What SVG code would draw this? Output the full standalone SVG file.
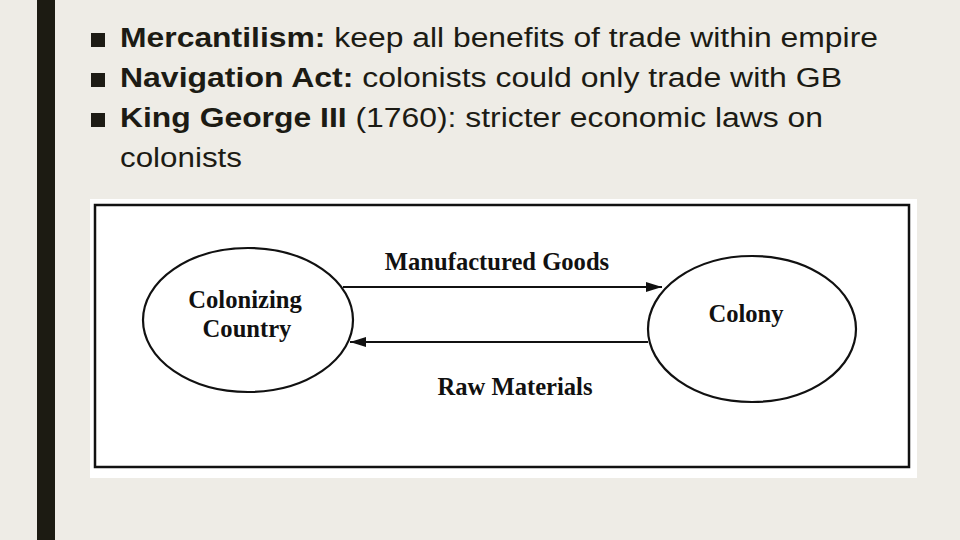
<svg xmlns="http://www.w3.org/2000/svg" width="960" height="540" viewBox="0 0 960 540">
<defs>
<style>
.bul{font-family:"Liberation Sans",Arial,sans-serif;font-size:27px;fill:#1c1b14}
.b{font-weight:bold}
.lbl{font-family:"Liberation Serif","Times New Roman",serif;font-size:24.6px;font-weight:bold;fill:#111;text-anchor:middle}
.node{fill:none;stroke:#111;stroke-width:2.2}
.conn{stroke:#111;stroke-width:2.2;fill:none}
</style>
<marker id="ah" viewBox="0 0 16 10" refX="16" refY="5" markerWidth="16" markerHeight="10" markerUnits="userSpaceOnUse" orient="auto">
<path d="M0,0 L16,5 L0,10 Z" fill="#111"/>
</marker>
</defs>
<rect width="960" height="540" fill="#EEECE6"/>
<rect x="37" y="0" width="18" height="540" fill="#1c1b12"/>
<g id="bullets">
<rect x="91" y="33" width="14" height="14" fill="#1c1b14"/>
<rect x="91" y="73" width="14" height="14" fill="#1c1b14"/>
<rect x="91" y="113" width="14" height="14" fill="#1c1b14"/>
<text class="bul" x="120" y="47" textLength="758" lengthAdjust="spacingAndGlyphs"><tspan class="b">Mercantilism:</tspan> keep all benefits of trade within empire</text>
<text class="bul" x="120" y="87" textLength="722" lengthAdjust="spacingAndGlyphs"><tspan class="b">Navigation Act:</tspan> colonists could only trade with GB</text>
<text class="bul" x="120" y="127" textLength="703" lengthAdjust="spacingAndGlyphs"><tspan class="b">King George III</tspan> (1760): stricter economic laws on</text>
<text class="bul" x="120" y="167" textLength="122" lengthAdjust="spacingAndGlyphs">colonists</text>
</g>
<rect x="90" y="199" width="827" height="279" fill="#fff"/>
<rect x="95" y="205" width="814" height="262" fill="none" stroke="#111" stroke-width="2.5"/>
<g id="colonizing-country">
<ellipse class="node" cx="248" cy="320" rx="105" ry="72"/>
<text class="lbl" x="245" y="308">Colonizing</text>
<text class="lbl" x="247" y="337">Country</text>
</g>
<g id="colony">
<ellipse class="node" cx="752" cy="329" rx="104" ry="73"/>
<text class="lbl" x="746" y="322">Colony</text>
</g>
<g id="connectors">
<line class="conn" x1="343" y1="287" x2="662" y2="287" marker-end="url(#ah)"/>
<line class="conn" x1="648" y1="342" x2="350" y2="342" marker-end="url(#ah)"/>
<text class="lbl" x="497" y="270">Manufactured Goods</text>
<text class="lbl" x="515" y="395">Raw Materials</text>
</g>
</svg>
